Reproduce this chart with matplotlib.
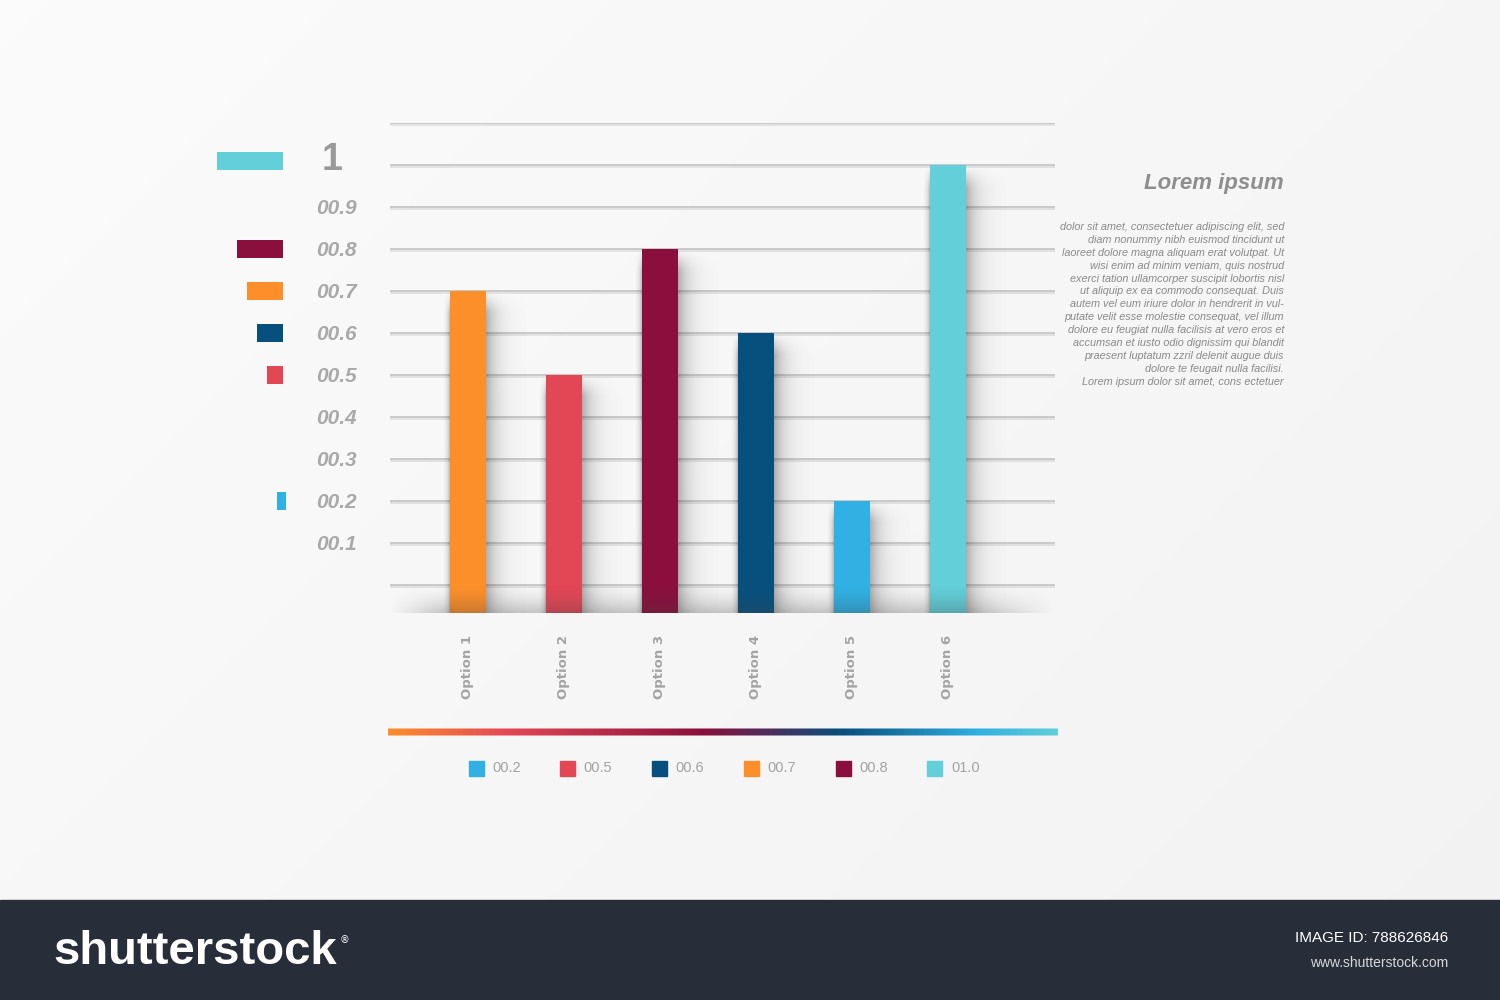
import numpy as np
import matplotlib
matplotlib.use("Agg")
import matplotlib.pyplot as plt
from matplotlib.patches import Rectangle, FancyBboxPatch
from matplotlib.colors import LinearSegmentedColormap
import matplotlib.patheffects as pe

# ---------------- data ----------------
categories = ["Option 1", "Option 2", "Option 3", "Option 4", "Option 5", "Option 6"]
values = [0.7, 0.5, 0.8, 0.6, 0.2, 1.0]
colors = ["#FD8F2A", "#E34756", "#8A0F3C", "#07507E", "#30B0E3", "#62CFD9"]
ytick_values = [0.1, 0.2, 0.3, 0.4, 0.5, 0.6, 0.7, 0.8, 0.9]
ytick_labels = ["00.1", "00.2", "00.3", "00.4", "00.5", "00.6", "00.7", "00.8", "00.9"]
top_value = 1.0
top_label = "1"
grid_values = [0.0, 0.1, 0.2, 0.3, 0.4, 0.5, 0.6, 0.7, 0.8, 0.9, 1.0, 1.1]
title = "Lorem ipsum"
paragraph = [
    "dolor sit amet, consectetuer adipiscing elit, sed",
    "diam nonummy nibh euismod tincidunt ut",
    "laoreet dolore magna aliquam erat volutpat. Ut",
    "wisi enim ad minim veniam, quis nostrud",
    "exerci tation ullamcorper suscipit lobortis nisl",
    "ut aliquip ex ea commodo consequat. Duis",
    "autem vel eum iriure dolor in hendrerit in vul-",
    "putate velit esse molestie consequat, vel illum",
    "dolore eu feugiat nulla facilisis at vero eros et",
    "accumsan et iusto odio dignissim qui blandit",
    "praesent luptatum zzril delenit augue duis",
    "dolore te feugait nulla facilisi.",
    "Lorem ipsum dolor sit amet, cons ectetuer",
]
footer_brand = "shutterstock"
footer_id = "IMAGE ID: 788626846"
footer_url = "www.shutterstock.com"

W, H = 1500, 1000
fig = plt.figure(figsize=(15, 10), dpi=100)

def fx(px):
    return px / W

def fy(py):
    return 1 - py / H

# ---------------- background ----------------
bg = fig.add_axes([0, 0, 1, 1], zorder=-10)
gx = np.linspace(0, 1, 300)
gy = np.linspace(0, 1, 200)
GX, GY = np.meshgrid(gx, gy)
shade = 0.985 - 0.035 * (0.6 * GX + 0.4 * GY)
bg.imshow(np.dstack([shade, shade, shade]), extent=[0, 1, 0, 1], aspect="auto", origin="upper")
bg.add_patch(Rectangle((0, 0), 1, 0.1, color="#282E39", transform=bg.transAxes))
bg.set_xlim(0, 1)
bg.set_ylim(0, 1)
bg.axis("off")

# ---------------- main axes ----------------
ymin = -0.0667
xlo, xhi = -0.8125, 6.115
ax = fig.add_axes([fx(390), fy(613), fx(1055) - fx(390), (613 - 123) / H])
ax.set_facecolor("none")
xpos = np.arange(len(values))
ax.set_xlim(xlo, xhi)
ax.set_ylim(ymin, 1.1)
for s in ax.spines.values():
    s.set_visible(False)

for g in grid_values:
    ax.axhline(g, color="#c6c6c6", lw=1.3, zorder=1,
               path_effects=[pe.SimpleLineShadow(offset=(0, -1.5), shadow_color="#999999", alpha=0.25),
                             pe.Normal()])

bw = 0.375
# soft blurred shadows around the bars (mostly to the right)
for xi, v in zip(xpos, values):
    x0 = xi - bw / 2 - 0.06
    x1 = xi + bw / 2 + 0.42
    nxs, nys = 120, 80
    sx = np.linspace(x0, x1, nxs)[None, :]
    sy = np.linspace(v, ymin, nys)[:, None]
    right = xi + bw / 2
    left = xi - bw / 2
    dxr = np.clip(sx - right, 0, None)
    dxl = np.clip(left - sx, 0, None)
    a = 0.30 * np.exp(-dxr / 0.11) * np.exp(-dxl / 0.025)
    topfade = np.clip((v - sy) / 0.05, 0, 1)
    a = a * topfade
    sh = np.zeros((nys, nxs, 4))
    sh[..., 3] = a
    ax.imshow(sh, extent=[x0, x1, ymin, v], aspect="auto", origin="upper",
              zorder=1.5, interpolation="bilinear")

ax.bar(xpos, [v - ymin for v in values], bottom=ymin, width=bw, color=colors, zorder=2)

# floor shading (darkens bar bottoms too)
ny, nx = 60, 400
vert = np.linspace(0, 1, ny)[:, None] ** 1.6
xx = np.linspace(0, 1, nx)[None, :]
horiz = np.clip(np.minimum(xx / 0.08, (1 - xx) / 0.12), 0, 1)
alpha = 0.28 * vert * horiz
floor = np.zeros((ny, nx, 4))
floor[..., :3] = 0.25
floor[..., 3] = alpha
ax.imshow(floor, extent=[xlo, xhi, ymin, 0.0], aspect="auto", origin="upper",
          zorder=3, interpolation="bilinear")
ax.set_xlim(xlo, xhi)
ax.set_ylim(ymin, 1.1)

ax.set_yticks(ytick_values)
ax.set_yticklabels(ytick_labels)
ax.tick_params(axis="y", length=0, pad=24)
for lab in ax.get_yticklabels():
    lab.set_fontsize(15)
    lab.set_fontweight("bold")
    lab.set_fontstyle("italic")
    lab.set_color("#a9a9a9")
    lab.set_fontfamily("Liberation Sans")
ax.text(-0.072, top_value + 0.012, top_label, transform=ax.get_yaxis_transform(),
        fontsize=27, fontweight="bold", color="#9a9a9a", ha="right", va="center",
        family="Liberation Sans", fontstretch="condensed")

ax.set_xticks(xpos)
ax.set_xticklabels(categories, rotation=90, fontweight="bold", color="#a4a4a4",
                   fontsize=9.5, va="top")
ax.tick_params(axis="x", length=0, pad=16)

# ---------------- left mini bars ----------------
lax = fig.add_axes([fx(200), fy(613), fx(290) - fx(200), (613 - 123) / H], sharey=ax)
lax.set_facecolor("none")
lax.set_xlim(200, 290)
lax.axis("off")
for v, c in zip(values, colors):
    w = max(100 * (v - 0.34), 9)
    right = 283 if w > 9 else 286
    lax.barh(v + (0.009 if v == 1.0 else 0), w, left=right - w, height=0.043, color=c)

# ---------------- gradient line ----------------
gax = fig.add_axes([fx(386), fy(737), fx(1060) - fx(386), 10 / H])
gax.axis("off")
cmap = LinearSegmentedColormap.from_list(
    "g", [(0.0, "#FD8F2A"), (0.18, "#E34756"), (0.47, "#8A0F3C"), (0.68, "#07507E"),
          (0.88, "#30B0E3"), (1.0, "#62CFD9")])
im = gax.imshow(np.linspace(0, 1, 600)[None, :], cmap=cmap, aspect="auto",
                extent=[0, 1, 0, 1])
gax.set_xlim(0, 1)
gax.set_ylim(0, 1)
clip = FancyBboxPatch((0.003, 0.15), 0.994, 0.7, boxstyle="round,pad=0,rounding_size=0.004",
                      transform=gax.transAxes, facecolor="none", edgecolor="none")
gax.add_patch(clip)
im.set_clip_path(clip)

# ---------------- bottom legend ----------------
order = np.argsort(values)
for i, idx in enumerate(order):
    cx = 476 + 91.8 * i
    fig.patches.append(Rectangle((fx(cx - 7.5), fy(768 + 7.5)), 15 / W, 15 / H,
                                 color=colors[idx], transform=fig.transFigure, figure=fig))
    fig.text(fx(cx + 16), fy(768), f"{values[idx]:04.1f}", fontsize=10.5, color="#a3a3a3",
             va="center", ha="left", family="Liberation Sans")

# ---------------- text block ----------------
fig.text(fx(1284), fy(183), title, fontsize=16, fontweight="bold", fontstyle="italic",
         color="#8e8e8e", ha="right", va="center", family="Liberation Sans")
for i, line in enumerate(paragraph):
    fig.text(fx(1284), fy(227 + 12.9 * i), line, fontsize=7.8, fontstyle="italic",
             color="#8a8a8a", ha="right", va="center", family="Liberation Sans")

# ---------------- footer ----------------
fig.text(fx(53), fy(952), footer_brand, fontsize=34, fontweight="bold", color="white",
         ha="left", va="center", family="Liberation Sans")
fig.text(fx(340), fy(940), "\u00ae", fontsize=7, color="white", ha="left", va="center")
fig.text(fx(1448), fy(938), footer_id, fontsize=11, color="white", ha="right", va="center",
         family="Liberation Sans")
fig.text(fx(1448), fy(963), footer_url, fontsize=10, color="#d8d8d8", ha="right", va="center",
         family="Liberation Sans")

fig.savefig("out.png", dpi=100)
